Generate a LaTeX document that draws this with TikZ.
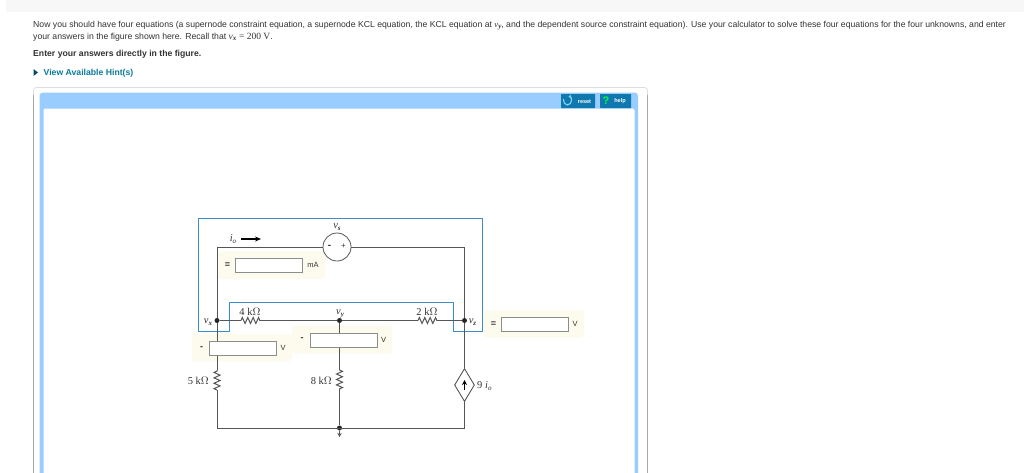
\documentclass[tikz,border=0pt]{standalone}
\usepackage{fontspec}
\setmainfont{Liberation Sans}
\newfontfamily\serifcirc{Liberation Serif}
\usetikzlibrary{arrows.meta,decorations.pathmorphing,shapes.geometric}
\definecolor{framegray}{HTML}{A8A8A8}
\definecolor{frametop}{HTML}{DDDDDD}
\definecolor{headblue}{HTML}{99CCFF}
\definecolor{btnblue}{HTML}{0F78AE}
\definecolor{wirec}{HTML}{555555}
\definecolor{loopblue}{HTML}{3D8DC8}
\definecolor{paleans}{HTML}{FDFAEE}
\definecolor{inputedge}{HTML}{8A8F8A}
\definecolor{linkc}{HTML}{0A7A9C}
\definecolor{bodytxt}{HTML}{333333}
\tikzset{
  x=1pt,y=-1pt,
  wire/.style={draw=wirec,line width=1pt},
  loopline/.style={draw=loopblue,line width=1pt},
  anspanel/.style={fill=paleans,draw=none,rounded corners=3pt,minimum width=100pt,minimum height=27.5pt,inner sep=0pt},
  inputbox/.style={fill=white,draw=inputedge,line width=0.7pt,minimum width=67pt,minimum height=14pt,inner sep=0pt},
  unitlab/.style={font=\fontsize{7.5}{8}\selectfont,text=bodytxt,inner sep=0pt},
  eqlab/.style={font=\bfseries\fontsize{9}{9}\selectfont,text=bodytxt,inner sep=0pt},
  val/.style={font=\serifcirc\fontsize{10.5}{11}\selectfont,text=bodytxt,inner sep=0pt},
  dotnode/.style={circle,fill=black!85,inner sep=0pt,minimum size=5pt},
  zigh/.style={wire,decorate,decoration={zigzag,segment length=5.4pt,amplitude=3pt}},
  bodyline/.style={font=\fontsize{8.67}{10}\selectfont,text=bodytxt,inner sep=0pt,anchor=base west},
  btn/.style={fill=btnblue,draw=none,rounded corners=0.5pt,inner sep=0pt},
}
\newcommand{\vsym}[1]{{\serifcirc\itshape v\raisebox{-1.5pt}{\fontsize{7}{7}\selectfont\bfseries #1}}}
\newcommand{\iosym}{{\serifcirc\itshape i\raisebox{-1.5pt}{\fontsize{7}{7}\selectfont o}}}
\begin{document}
\begin{tikzpicture}
\useasboundingbox (0,0) rectangle (1024,472);
\fill[white] (0,0) rectangle (1024,472);
\fill[black!3] (6,0) rectangle (1024,12);
% statement
\node[bodyline] (l1) at (33,27) {Now you should have four equations (a supernode constraint equation, a supernode KCL equation, the KCL equation at \vsym{y}, and the dependent source constraint equation). Use your calculator to solve these four equations for the four unknowns, and enter};
\node[bodyline] (l2) at (33,39) {your answers in the figure shown here. Recall that {\fontsize{9.5}{10}\selectfont\vsym{x} {\serifcirc = 200 V}}.};
\node[bodyline,font=\bfseries\fontsize{8.67}{10}\selectfont] (l3) at (33,56) {Enter your answers directly in the figure.};
\node[bodyline,text=linkc,font=\bfseries\fontsize{8.67}{10}\selectfont] (l4) at (43.5,75.5) {View Available Hint(s)};
\fill[linkc!60!black] (33.5,69) -- (38,72.5) -- (33.5,76) -- cycle;
% frame
\draw[frametop,line width=0.8pt,rounded corners=3pt] (33.5,110) -- (33.5,87.5) -- (647.5,87.5) -- (647.5,110);
\draw[framegray,line width=0.8pt] (33.5,95) -- (33.5,473) (647.5,95) -- (647.5,473);
\fill[headblue,rounded corners=3pt] (39.5,92.7) rectangle (638,480);
\fill[white,rounded corners=2pt] (43.5,108.5) rectangle (634.5,480);
% buttons
\node[btn,minimum width=34pt,minimum height=14pt] (reset) at (578,101) {};
\node[btn,minimum width=31pt,minimum height=14pt] (help) at (615.5,101) {};
\node[font=\bfseries\fontsize{5.5}{5}\selectfont,text=white,inner sep=0pt] at (584.5,101.3) {reset};
\node[font=\bfseries\fontsize{5.5}{5}\selectfont,text=white,inner sep=0pt] at (620,101.3) {help};
\draw[cyan!50,line width=1.1pt,-{Stealth[length=2.5pt,width=4pt]}] (563.5,99) .. controls (563.5,107) and (571.5,107) .. (571.5,99) .. controls (571.5,97.5) and (570.5,96.5) .. (568.5,96.5);
\node[font=\bfseries\fontsize{11}{11}\selectfont,text=green!75!cyan,inner sep=0pt] at (606,101) {?};
% answer panels behind the circuit
\node[anspanel,minimum width=107pt] (pa) at (271.5,265) {};
\node[anspanel] (pb) at (242,347.5) {};
\node[anspanel] (pc) at (342,339.5) {};
\node[anspanel] (pd) at (534,324) {};
% blue supernode loop
\draw[loopline] (229.5,331.5) -- (198.5,331.5) -- (198.5,218.5) -- (482.5,218.5) -- (482.5,331) -- (453,331) -- (453,302) -- (229.5,302) -- cycle;
% nodes
\node[dotnode] (nx) at (217,320.5) {};
\node[dotnode] (ny) at (339.5,320.5) {};
\node[dotnode] (nz) at (464.5,320.5) {};
\node[dotnode] (nb) at (339.5,428) {};
\coordinate (tl) at (217,247);
\coordinate (tr) at (464.5,247);
\coordinate (bl) at (217,428);
\coordinate (br) at (464.5,428);
\coordinate (gnd) at (339.5,437);
\node[circle,draw=wirec,line width=0.8pt,fill=white,minimum size=28pt,inner sep=0pt] (src) at (337,247) {};
\node[diamond,draw=wirec,line width=0.9pt,minimum width=20pt,minimum height=33pt,inner sep=0pt] (dep) at (464.5,385) {};
\coordinate (r4a) at (241,320.5); \coordinate (r4b) at (260,320.5);
\coordinate (r2a) at (418,320.5); \coordinate (r2b) at (437,320.5);
\coordinate (r5a) at (217,370); \coordinate (r5b) at (217,390);
\coordinate (r8a) at (339.5,370); \coordinate (r8b) at (339.5,390);
% wires
\draw[wire] (src.east) -- (tr) -- (nz);
\draw[wire] (src.west) -- (tl) -- (nx);
\draw[wire] (nx) -- (r4a);
\draw[zigh] (r4a) -- (r4b);
\draw[wire] (r4b) -- (ny) -- (r2a);
\draw[zigh] (r2a) -- (r2b);
\draw[wire] (r2b) -- (nz);
\draw[wire] (nz) -- (dep.north);
\draw[wire] (dep.south) -- (br) -- (bl) -- (r5b);
\draw[zigh] (r5b) -- (r5a);
\draw[wire] (r5a) -- (nx);
\draw[wire] (ny) -- (r8a);
\draw[zigh] (r8a) -- (r8b);
\draw[wire] (r8b) -- (nb);
\draw[wire,-{Stealth[length=4pt,width=4.5pt]}] (nb) -- (gnd);
\draw[black,line width=0.9pt,-{Stealth[length=5pt,width=5pt]}] ([yshift=-5pt]dep.center) -- ([yshift=5pt]dep.center);
\draw[black,line width=1.1pt,-{Stealth[length=6pt,width=5pt]}] (241,239) -- (261,239);
% circuit labels
\node[val] at (233,239) {\iosym};
\node[val] at (337,227) {\vsym{s}};
\node[val] at (208,322) {\vsym{x}};
\node[val] at (340,314) {\vsym{y}};
\node[val] at (472.5,322) {\vsym{z}};
\node[val] at (250,311.5) {4 k$\Omega$};
\node[val] at (427,311.5) {2 k$\Omega$};
\node[val,anchor=east] at (209,381) {5 k$\Omega$};
\node[val,anchor=east] at (332,380.5) {8 k$\Omega$};
\node[val,anchor=west] at (477,386) {9 \iosym};
\node[inner sep=0pt,font=\bfseries\fontsize{10}{10}\selectfont,text=bodytxt] at (329.5,247) {-};
\node[inner sep=0pt,font=\fontsize{8}{8}\selectfont,text=bodytxt] at (343.5,246.5) {+};
% answer inputs and labels
\node[inputbox] (ia) at (268.5,265) {};
\node[eqlab] at (227.5,265) {=};
\node[unitlab] at (313,265) {mA};
\node[inputbox] (ib) at (242.5,348) {};
\node[eqlab] at (201.5,348) {-};
\node[unitlab] at (283,347.5) {V};
\node[inputbox] (ic) at (344,340) {};
\node[eqlab] at (302,339.5) {-};
\node[unitlab] at (383.5,339.5) {V};
\node[inputbox] (id) at (535,324) {};
\node[eqlab] at (493.5,324.5) {=};
\node[unitlab] at (575,324) {V};
\end{tikzpicture}
\end{document}
